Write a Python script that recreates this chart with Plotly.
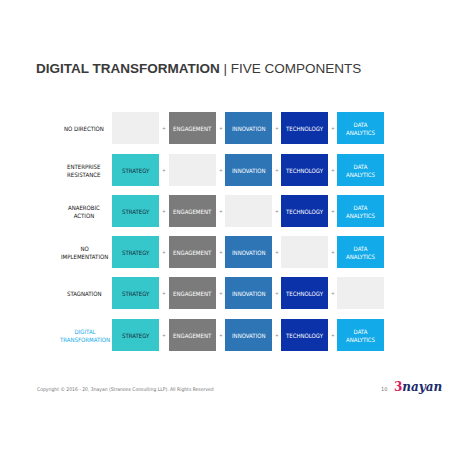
import plotly.graph_objects as go

row_labels = ["NO DIRECTION", "ENTERPRISE<br>RESISTANCE", "ANAEROBIC<br>ACTION",
              "NO<br>IMPLEMENTATION", "STAGNATION", "DIGITAL<br>TRANSFORMATION"]
components = ["STRATEGY", "ENGAGEMENT", "INNOVATION", "TECHNOLOGY", "DATA<br>ANALYTICS"]
comp_colors = ["#35c7c9", "#7b7b7b", "#2e75b6", "#0b32a8", "#12aae8"]
comp_text = ["#1a2a3a", "white", "white", "white", "white"]
# which component is missing in each row (None = all present)
missing = [0, 1, 2, 3, 4, None]

col_x = [112, 169, 225, 281, 337]
box_w = 47
row_y = [128, 170, 211, 252, 293, 335]
box_h = 32

fig = go.Figure()
shapes, ann = [], []
for r, (lab, miss) in enumerate(zip(row_labels, missing)):
    yc = row_y[r]
    ann.append(dict(x=84, y=yc, text=lab, showarrow=False,
                    font=dict(size=6, color="#12aae8" if miss is None else "#111"),
                    xanchor="center", yanchor="middle"))
    for c, x0 in enumerate(col_x):
        filled = c != miss
        shapes.append(dict(type="rect", x0=x0, x1=x0 + box_w, y0=yc - box_h / 2, y1=yc + box_h / 2,
                           xref="x", yref="y", line=dict(width=0),
                           fillcolor=comp_colors[c] if filled else "#efefef"))
        if filled:
            ann.append(dict(x=x0 + box_w / 2, y=yc, text=components[c], showarrow=False,
                            font=dict(size=6, color=comp_text[c])))
        if c < 4:
            ann.append(dict(x=x0 + box_w + 4.5, y=yc, text="+", showarrow=False,
                            font=dict(size=5, color="#888")))

ann.append(dict(x=34, y=68, xanchor="left", yanchor="middle", showarrow=False,
                text="<b>DIGITAL TRANSFORMATION</b> | FIVE COMPONENTS",
                font=dict(size=13.5, color="#3a3a3a", family="Liberation Sans Narrow, Arial Narrow, Liberation Sans, sans-serif")))
ann.append(dict(x=35, y=389, xanchor="left", yanchor="middle", showarrow=False,
                text="Copyright © 2016 - 20, 3nayan (Stranoex Consulting LLP). All Rights Reserved",
                font=dict(size=5, color="#777")))
ann.append(dict(x=384, y=389, showarrow=False, text="10", font=dict(size=5.5, color="#777")))
ann.append(dict(x=392, y=387, xanchor="left", showarrow=False,
                text="<span style='color:#d81b60'><b>3</b></span><i><b>nayan</b></i>",
                font=dict(size=12, color="#1a2a6c", family="DejaVu Serif")))

# the page body adds an 8px margin, so the axes start 8px in
off = 8
fig.update_layout(
    width=453, height=453, margin=dict(l=0, r=0, t=0, b=0),
    paper_bgcolor="white", plot_bgcolor="white",
    xaxis=dict(range=[off, 453 + off], visible=False, fixedrange=True),
    yaxis=dict(range=[453 + off, off], visible=False, fixedrange=True),
    shapes=shapes, annotations=ann, showlegend=False,
    font=dict(family="Liberation Sans Narrow, DejaVu Sans Condensed, sans-serif"),
)
fig.write_html("out.html")
